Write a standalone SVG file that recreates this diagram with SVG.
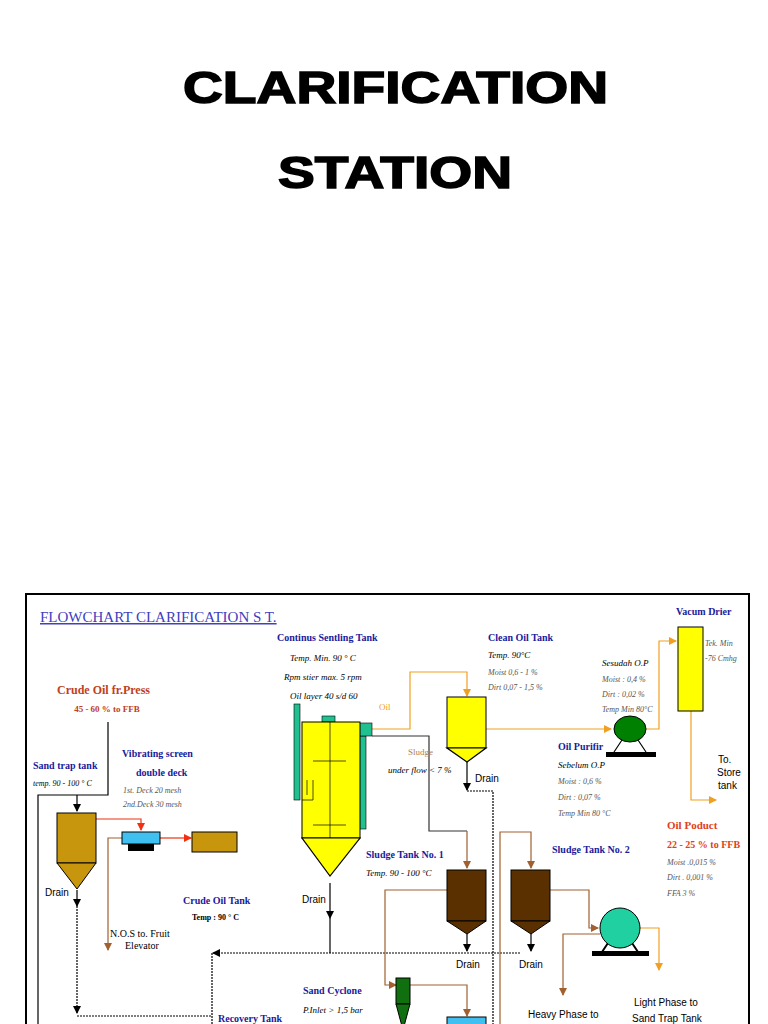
<svg xmlns="http://www.w3.org/2000/svg" width="768" height="1024" viewBox="0 0 768 1024">
<defs>
<style>
.t{font-family:"Liberation Serif",serif}
.s{font-family:"Liberation Sans",sans-serif;font-size:10px}
.bl{font-weight:bold;fill:#1a1a9a;font-size:10px}
.it{font-style:italic;font-size:9px}
.gr{font-style:italic;font-size:8px;fill:#555}
.ln{fill:none;stroke-width:1.2}
.ti{font-family:"Liberation Sans",sans-serif;font-weight:bold;font-size:44px;stroke:#000;stroke-width:1.5}
</style>
<marker id="ak" markerWidth="8" markerHeight="8" refX="7" refY="4" orient="auto" markerUnits="userSpaceOnUse"><path d="M0,0 L8,4 L0,8z" fill="#000"/></marker>
<marker id="ao" markerWidth="8" markerHeight="8" refX="7" refY="4" orient="auto" markerUnits="userSpaceOnUse"><path d="M0,0 L8,4 L0,8z" fill="#f0a020"/></marker>
<marker id="ab" markerWidth="8" markerHeight="8" refX="7" refY="4" orient="auto" markerUnits="userSpaceOnUse"><path d="M0,0 L8,4 L0,8z" fill="#a06030"/></marker>
<marker id="ar" markerWidth="8" markerHeight="8" refX="7" refY="4" orient="auto" markerUnits="userSpaceOnUse"><path d="M0,0 L8,4 L0,8z" fill="#f03010"/></marker>
</defs>
<rect width="768" height="1024" fill="#fff"/>
<text class="ti" x="183" y="103" textLength="425" lengthAdjust="spacingAndGlyphs">CLARIFICATION</text>
<text class="ti" x="278" y="188" textLength="234" lengthAdjust="spacingAndGlyphs">STATION</text>
<rect x="26" y="594" width="723" height="440" fill="none" stroke="#000" stroke-width="2"/>
<text class="t" x="40" y="622" font-size="15" fill="#4040c0" text-decoration="underline">FLOWCHART  CLARIFICATION  S T.</text>

<g id="connectors">
<path class="ln" stroke="#000" d="M108,722 V795 H38 V1030"/>
<path class="ln" stroke="#000" d="M77,795 V811" marker-end="url(#ak)"/>
<path class="ln" stroke="#f03010" d="M96,819 H141 V830" marker-end="url(#ar)"/>
<path class="ln" stroke="#f03010" d="M160,838 H191" marker-end="url(#ar)"/>
<path class="ln" stroke="#a06030" d="M122,838 H108 V950" marker-end="url(#ab)"/>
<path class="ln" stroke="#000" d="M77,890 V906" marker-end="url(#ak)"/>
<path class="ln" stroke="#000" stroke-dasharray="2,1" d="M77,906 V1013" marker-end="url(#ak)"/>
<path class="ln" stroke="#000" stroke-dasharray="2,1" d="M77,1016 H212"/>
<path class="ln" stroke="#000" d="M330,883 V918" marker-end="url(#ak)"/>
<path class="ln" stroke="#000" d="M330,918 V953"/>
<path class="ln" stroke="#000" stroke-dasharray="2,1" d="M520,953 H213" marker-end="url(#ak)"/>
<path class="ln" stroke="#000" stroke-dasharray="2,1" d="M212,953 V1030"/>
<path class="ln" stroke="#f0a020" d="M335,729 H410 V672 H467 V696" marker-end="url(#ao)"/>
<path class="ln" stroke="#333" d="M372,736 H429 V831 H467"/>
<path class="ln" stroke="#a06030" d="M467,831 V868" marker-end="url(#ab)"/>
<path class="ln" stroke="#000" d="M467,762 V790" marker-end="url(#ak)"/>
<path class="ln" stroke="#000" stroke-dasharray="2,1" d="M467,791 H493 V1030"/>
<path class="ln" stroke="#f0a020" d="M486,729 H611" marker-end="url(#ao)"/>
<path class="ln" stroke="#f0a020" d="M646,729 H659 V641 H676" marker-end="url(#ao)"/>
<path class="ln" stroke="#f0a020" d="M691,711 V800 H716" marker-end="url(#ao)"/>
<path class="ln" stroke="#a06030" d="M500,1030 V832 H531 V868" marker-end="url(#ab)"/>
<path class="ln" stroke="#000" d="M467,934 V951" marker-end="url(#ak)"/>
<path class="ln" stroke="#000" d="M531,934 V951" marker-end="url(#ak)"/>
<path class="ln" stroke="#a06030" d="M550,890 H589 V928 H598" marker-end="url(#ab)"/>
<path class="ln" stroke="#f0a020" d="M640,928 H659 V970" marker-end="url(#ao)"/>
<path class="ln" stroke="#a06030" d="M600,934 H563 V995" marker-end="url(#ab)"/>
<path class="ln" stroke="#a06030" d="M447,890 H385 V985 H396" marker-end="url(#ab)"/>
<path class="ln" stroke="#a06030" d="M410,985 H467 V1016" marker-end="url(#ab)"/>
</g>

<g id="sand-trap">
<rect x="57" y="813" width="39" height="50" fill="#c8960c" stroke="#000"/>
<path d="M57,863 H96 L77,889z" fill="#c8960c" stroke="#000"/>
<text class="t bl" x="33" y="769">Sand trap tank</text>
<text class="t gr" x="33" y="786" style="fill:#000">temp.  90 - 100 ° C</text>
<text class="s" x="45" y="896">Drain</text>
</g>
<g id="vibrating-screen">
<rect x="122" y="832" width="38" height="12" fill="#40c0f0" stroke="#000"/>
<rect x="128" y="844" width="26" height="7" fill="#000"/>
<text class="t bl" x="122" y="757" font-size="11">Vibrating screen</text>
<text class="t bl" x="136" y="776" font-size="11">double deck</text>
<text class="t gr" x="123" y="793">1st. Deck 20 mesh</text>
<text class="t gr" x="123" y="807">2nd.Deck 30 mesh</text>
<text class="t" x="110" y="937" font-size="10">N.O.S  to. Fruit</text>
<text class="t" x="125" y="949" font-size="10">Elevator</text>
</g>
<g id="crude-oil-tank">
<rect x="192" y="832" width="45" height="20" fill="#c8960c" stroke="#000"/>
<text class="t bl" x="183" y="904">Crude Oil Tank</text>
<text class="t" x="192" y="920" font-size="8" font-weight="bold">Temp :  90 ° C</text>
</g>
<g id="crude-oil-press">
<text class="t" x="57" y="694" font-size="12" font-weight="bold" fill="#c04020">Crude Oil fr.Press</text>
<text class="t" x="107" y="712" font-size="9" font-weight="bold" fill="#c04020" text-anchor="middle">45 - 60 % to FFB</text>
</g>
<g id="settling-tank">
<rect x="294" y="704" width="6" height="96" fill="#20c090" stroke="#000" stroke-width=".6"/>
<rect x="322" y="716" width="13" height="6" fill="#20c090" stroke="#000" stroke-width=".6"/>
<rect x="359" y="736" width="7" height="93" fill="#20c090" stroke="#000" stroke-width=".6"/>
<rect x="359" y="723" width="13" height="13" fill="#20c090" stroke="#000" stroke-width=".6"/>
<rect x="302" y="722" width="58" height="116" fill="#ffff00" stroke="#000"/>
<path d="M302,838 H360 L330,876z" fill="#ffff00" stroke="#000" stroke-width="1.2"/>
<path d="M330,722 V838 M313,761 H346 M313,825 H346" stroke="#000" stroke-width=".7" fill="none"/>
<path d="M302,800 H313 V780 M307,795 V780" stroke="#000" stroke-width=".7" fill="none"/>
<text class="t bl" x="277" y="641">Continus Sentling Tank</text>
<text class="t it" x="290" y="661" font-size="10">Temp. Min.  90 ° C</text>
<text class="t it" x="284" y="680" font-size="10">Rpm stier max.  5 rpm</text>
<text class="t it" x="290" y="699" font-size="10">Oil layer 40 s/d 60</text>
<text class="t" x="379" y="710" font-size="9" fill="#f0a020">Oil</text>
<text class="t" x="408" y="755" font-size="9" fill="#b08050">Sludge</text>
<text class="t it" x="388" y="773">under flow  &lt; 7 %</text>
<text class="s" x="302" y="903">Drain</text>
</g>
<g id="clean-oil-tank">
<rect x="447" y="697" width="39" height="51" fill="#ffff00" stroke="#000"/>
<path d="M447,748 H486 L467,762z" fill="#ffff00" stroke="#000" stroke-width="1.2"/>
<text class="t bl" x="488" y="641">Clean Oil Tank</text>
<text class="t it" x="488" y="658">Temp.  90°C</text>
<text class="t gr" x="488" y="675">Moist 0,6 - 1 %</text>
<text class="t gr" x="488" y="690">Dirt  0,07 - 1,5 %</text>
<text class="s" x="475" y="782">Drain</text>
</g>
<g id="oil-purifier">
<path d="M622,740 L614,752 M638,740 L646,752" stroke="#000" stroke-width="1.2"/>
<ellipse cx="630" cy="729" rx="16" ry="13" fill="#008000" stroke="#000"/>
<rect x="606" y="752" width="50" height="5" fill="#000"/>
<text class="t bl" x="558" y="750">Oil Purifir</text>
<text class="t it" x="558" y="768">Sebelum O.P</text>
<text class="t gr" x="558" y="784">Moist : 0,6 %</text>
<text class="t gr" x="558" y="800">Dirt   :  0,07 %</text>
<text class="t gr" x="558" y="816">Temp Min 80 °C</text>
<text class="t it" x="602" y="666">Sesudah O.P</text>
<text class="t gr" x="602" y="682">Moist : 0,4 %</text>
<text class="t gr" x="602" y="697">Dirt    : 0,02 %</text>
<text class="t gr" x="602" y="712">Temp Min 80°C</text>
</g>
<g id="vacum-drier">
<rect x="678" y="627" width="25" height="84" fill="#ffff00" stroke="#000"/>
<text class="t bl" x="676" y="615">Vacum Drier</text>
<text class="t gr" x="705" y="646">Tek. Min</text>
<text class="t gr" x="705" y="661">-76 Cmhg</text>
<text class="s" x="718" y="763" font-size="9">To.</text>
<text class="s" x="717" y="776" font-size="9">Store</text>
<text class="s" x="718" y="789" font-size="9">tank</text>
</g>
<g id="oil-product">
<text class="t" x="667" y="829" font-size="11" font-weight="bold" fill="#e04020">Oil Poduct</text>
<text class="t" x="667" y="848" font-size="10" font-weight="bold" fill="#e04020">22 - 25 % to FFB</text>
<text class="t gr" x="667" y="865">Moist .0,015 %</text>
<text class="t gr" x="667" y="880">Dirt .   0,001 %</text>
<text class="t gr" x="667" y="896">FFA   3 %</text>
</g>
<g id="sludge-tank-1">
<rect x="447" y="870" width="39" height="51" fill="#5a3000" stroke="#000"/>
<path d="M447,921 H486 L467,934z" fill="#5a3000" stroke="#000"/>
<text class="t bl" x="366" y="858">Sludge Tank No. 1</text>
<text class="t it" x="366" y="876">Temp. 90 - 100 °C</text>
<text class="s" x="456" y="968">Drain</text>
</g>
<g id="sludge-tank-2">
<rect x="511" y="870" width="39" height="51" fill="#5a3000" stroke="#000"/>
<path d="M511,921 H550 L531,934z" fill="#5a3000" stroke="#000"/>
<text class="t bl" x="552" y="853">Sludge Tank No. 2</text>
<text class="s" x="519" y="968">Drain</text>
</g>
<g id="sludge-separator">
<path d="M610,940 L602,952 M630,940 L638,952" stroke="#000" stroke-width="2"/>
<circle cx="620" cy="928" r="20" fill="#20d0a0" stroke="#000"/>
<rect x="592" y="951" width="57" height="5" fill="#000"/>
<text class="s" x="634" y="1006" font-size="9">Light Phase to</text>
<text class="s" x="632" y="1022" font-size="9">Sand Trap Tank</text>
<text class="s" x="528" y="1018" font-size="9">Heavy Phase to</text>
</g>
<g id="sand-cyclone">
<rect x="396" y="978" width="14" height="26" fill="#107010" stroke="#000"/>
<path d="M396,1004 H410 L403,1030z" fill="#107010" stroke="#000"/>
<text class="t bl" x="303" y="994">Sand Cyclone</text>
<text class="t it" x="303" y="1013">P.Inlet  &gt; 1,5 bar</text>
</g>
<g id="recovery-tank">
<rect x="447" y="1017" width="39" height="12" fill="#40c0f0" stroke="#000"/>
<text class="t bl" x="218" y="1022">Recovery Tank</text>
</g>
</svg>
